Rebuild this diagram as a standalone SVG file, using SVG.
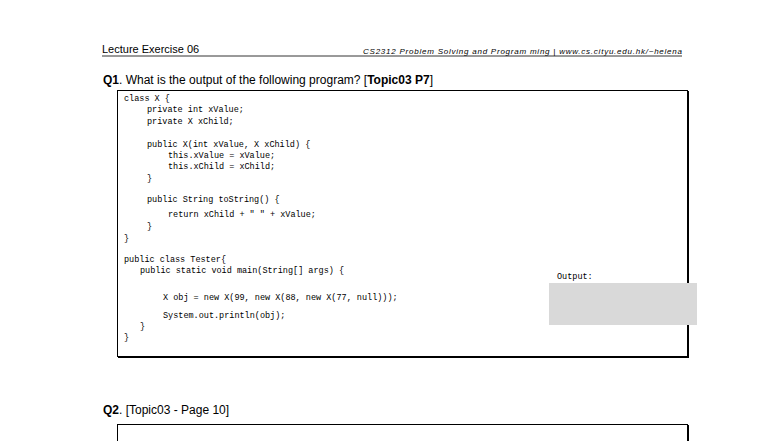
<svg xmlns="http://www.w3.org/2000/svg" width="784" height="441" viewBox="0 0 784 441">
<style>
.h{font-family:"Liberation Sans",Arial,sans-serif;fill:#000}
.c{font-family:"Liberation Mono",monospace;font-size:8.5px;fill:#000}
</style>
<rect width="784" height="441" fill="#fff"/>
<text class="h" x="102" y="53" font-size="11">Lecture Exercise 06</text>
<text class="h" x="682" y="54" font-size="8" font-style="italic" text-anchor="end" textLength="319" lengthAdjust="spacing">CS2312 Problem  Solving and Program ming | www.cs.cityu.edu.hk/~helena</text>
<line x1="102" y1="56" x2="682" y2="56" stroke="#000" stroke-width="0.8"/>
<text class="h" x="103" y="84" font-size="12"><tspan font-weight="bold">Q1</tspan>. What is the output of the following program? [<tspan font-weight="bold">Topic03 P7</tspan>]</text>
<g id="box1">
<rect x="117.5" y="90.5" width="570" height="266" fill="#fff" stroke="#000" stroke-width="1"/>
<line x1="688" y1="91" x2="688" y2="358" stroke="#000" stroke-width="2"/>
<line x1="118" y1="357" x2="689" y2="357" stroke="#000" stroke-width="2"/>
<rect x="549" y="283" width="148" height="42" fill="#d9d9d9"/>
<text class="c" x="557" y="279">Output:</text>
<text class="c" x="124" y="101">class X {</text>
<text class="c" x="147" y="112">private int xValue;</text>
<text class="c" x="147" y="124">private X xChild;</text>
<text class="c" x="147" y="147">public X(int xValue, X xChild) {</text>
<text class="c" x="168" y="158">this.xValue = xValue;</text>
<text class="c" x="168" y="169">this.xChild = xChild;</text>
<text class="c" x="147" y="181">}</text>
<text class="c" x="147" y="202">public String toString() {</text>
<text class="c" x="168" y="217">return xChild + " " + xValue;</text>
<text class="c" x="147" y="229">}</text>
<text class="c" x="124" y="241">}</text>
<text class="c" x="124" y="262">public class Tester{</text>
<text class="c" x="140" y="273">public static void main(String[] args) {</text>
<text class="c" x="163" y="300">X obj = new X(99, new X(88, new X(77, null)));</text>
<text class="c" x="163" y="318">System.out.println(obj);</text>
<text class="c" x="140" y="329">}</text>
<text class="c" x="124" y="340">}</text>
</g>
<text class="h" x="103" y="414" font-size="12"><tspan font-weight="bold">Q2</tspan>. [Topic03 - Page 10]</text>
<g id="box2">
<rect x="117.5" y="424.5" width="570" height="40" fill="#fff" stroke="#000" stroke-width="1"/>
<line x1="688" y1="425" x2="688" y2="441" stroke="#000" stroke-width="2"/>
</g>
</svg>
